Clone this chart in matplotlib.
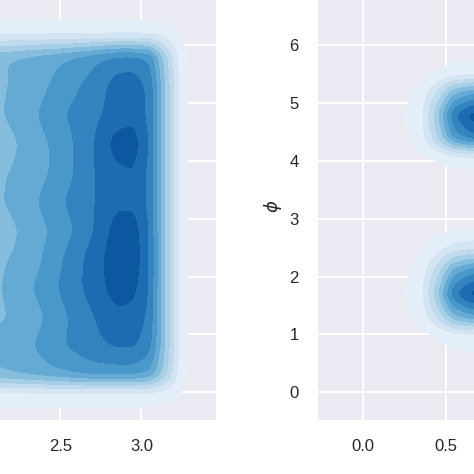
import numpy as np
import matplotlib
matplotlib.use("Agg")
import matplotlib.pyplot as plt
import seaborn as sns

sns.set_theme(style="darkgrid")
plt.rcParams['font.family'] = ['Liberation Sans', 'DejaVu Sans']

# Left panel: coarse density grid (rows = phi, cols = x)
left_x = [1.9, 2.1, 2.3, 2.5, 2.7, 2.85, 2.95, 3.05, 3.15, 3.25, 3.35]
left_phi = [-0.4, 0.0, 0.3, 0.8, 1.3, 1.8, 2.3, 2.8, 3.3, 3.8, 4.3, 4.8, 5.3, 5.8, 6.2, 6.6]
left_dens = [
    [0]*11,
    [0.1,0.1,0.1,0.1,0.1,0.1,0.1,0.1,0.08,0.03,0],
    [0.45,0.5,0.55,0.6,0.65,0.65,0.65,0.6,0.35,0.05,0],
    [0.5,0.55,0.6,0.7,0.78,0.82,0.82,0.75,0.4,0.06,0],
    [0.45,0.5,0.55,0.68,0.8,0.88,0.87,0.78,0.4,0.06,0],
    [0.5,0.5,0.6,0.72,0.85,0.95,0.93,0.8,0.4,0.06,0],
    [0.45,0.5,0.55,0.7,0.85,0.97,0.97,0.8,0.4,0.06,0],
    [0.45,0.45,0.55,0.65,0.8,0.95,0.95,0.8,0.4,0.06,0],
    [0.5,0.5,0.58,0.7,0.8,0.88,0.88,0.78,0.4,0.06,0],
    [0.45,0.5,0.55,0.65,0.8,0.88,0.9,0.78,0.4,0.06,0],
    [0.4,0.45,0.55,0.65,0.8,0.95,0.95,0.8,0.4,0.06,0],
    [0.45,0.5,0.58,0.7,0.78,0.85,0.88,0.78,0.4,0.06,0],
    [0.5,0.5,0.55,0.65,0.75,0.85,0.86,0.78,0.4,0.06,0],
    [0.45,0.5,0.55,0.6,0.68,0.75,0.75,0.7,0.35,0.05,0],
    [0.1,0.1,0.1,0.1,0.1,0.1,0.1,0.1,0.08,0.03,0],
    [0]*11,
]

# Right panel: separable profiles
right_x = [0.2, 0.35, 0.45, 0.55, 0.65, 0.8, 1.0, 1.3]
right_xprof = [0, 0.1, 0.4, 0.8, 0.95, 1.0, 0.9, 0.5]
right_phi = [0.5, 1.0, 1.3, 1.7, 2.1, 2.5, 2.9, 3.3, 3.8, 4.1, 4.4, 4.8, 5.2, 5.5, 5.9]
right_phiprof = [0, 0.1, 0.6, 1.0, 0.7, 0.2, 0, 0, 0, 0.15, 0.8, 1.0, 0.6, 0.1, 0]


def upsample(xs, ys, grid, nx=300, ny=300, sigma=4):
    grid = np.asarray(grid, float)
    fx = np.linspace(xs[0], xs[-1], nx)
    fy = np.linspace(ys[0], ys[-1], ny)
    tmp = np.array([np.interp(fx, xs, row) for row in grid])
    out = np.array([np.interp(fy, ys, col) for col in tmp.T]).T
    k = np.exp(-0.5 * (np.arange(-3*sigma, 3*sigma+1) / sigma) ** 2)
    k /= k.sum()
    out = np.apply_along_axis(lambda r: np.convolve(r, k, mode='same'), 1, out)
    out = np.apply_along_axis(lambda c: np.convolve(c, k, mode='same'), 0, out)
    return fx, fy, out


fig = plt.figure(figsize=(4.74, 4.74), dpi=100)
W = H = 474.0
levels = np.linspace(0.04, 1.0, 11)
cmap = plt.get_cmap('Blues')
colors = [cmap(v) for v in np.linspace(0.1, 0.85, 10)]

# left axes
xl = (1.5, 3.46); yl = (-0.48, 6.9)
ppx, ppy = 162.0, 57.8
axw = (xl[1]-xl[0])*ppx; axh = (yl[1]-yl[0])*ppy
ax1 = fig.add_axes([(216-axw)/W, (W-420)/H, axw/W, axh/H])
fx, fy, z = upsample(left_x, left_phi, left_dens)
ax1.contourf(fx, fy, z, levels=levels, colors=colors)
ax1.set_xlim(*xl); ax1.set_ylim(*yl)
ax1.set_xticks([2.5, 3.0]); ax1.set_yticks(range(7))
ax1.set_yticklabels([])

# right axes
xr = (-0.27, 1.3)
ppx2 = 166.0
axw2 = (xr[1]-xr[0])*ppx2
ax2 = fig.add_axes([318/W, (W-420)/H, axw2/W, axh/H])
rgrid = np.outer(right_phiprof, right_xprof)
fx2, fy2, z2 = upsample(right_x, right_phi, rgrid)
ax2.contourf(fx2, fy2, z2, levels=levels, colors=colors)
ax2.set_xlim(*xr); ax2.set_ylim(*yl)
ax2.set_xticks([0.0, 0.5]); ax2.set_yticks(range(7))
ax2.set_ylabel(r'$\phi$', fontsize=13)

for ax in (ax1, ax2):
    ax.tick_params(labelsize=12, pad=8)
    ax.grid(color='white', linewidth=1.5)
    for s in ax.spines.values():
        s.set_visible(False)

fig.savefig('out.png', dpi=100)
